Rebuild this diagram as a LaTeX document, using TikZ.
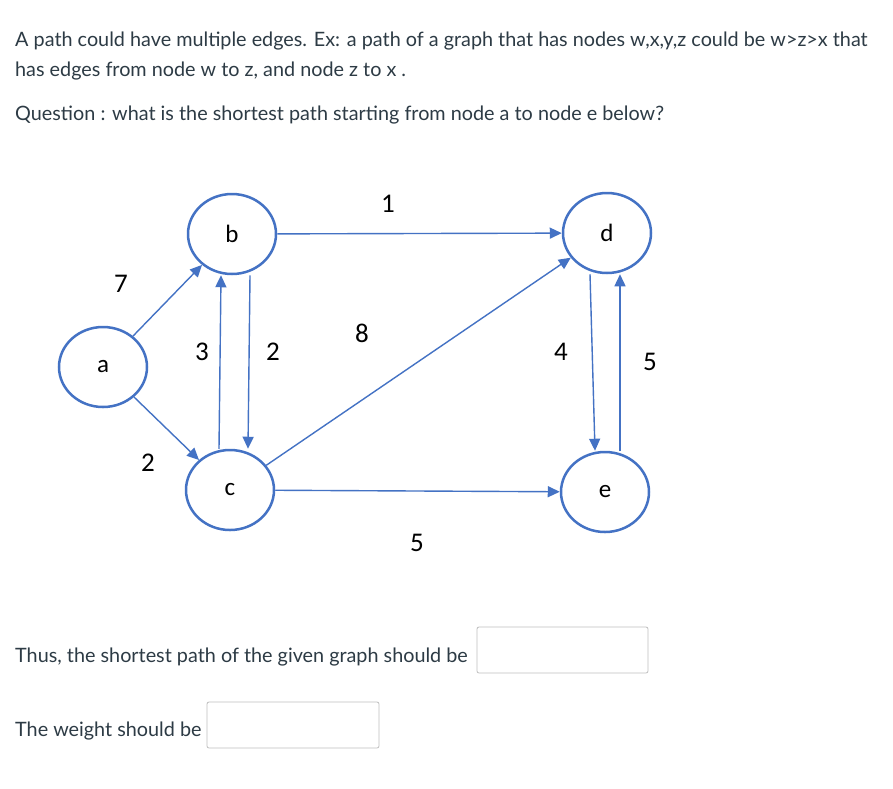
\documentclass[tikz,border=0pt]{standalone}
\usepackage{fontspec}
\setmainfont{Lato}
\newfontfamily\lblfont{Carlito}
\usetikzlibrary{arrows.meta,shapes.geometric}
\definecolor{nb}{HTML}{4472C4}
\definecolor{tx}{HTML}{2D3B45}
\begin{document}
\begin{tikzpicture}[x=1pt,y=-1pt,
  gnode/.style={ellipse,draw=nb,line width=2.5pt,fill=white,minimum width=88pt,minimum height=80pt,inner sep=0pt,font=\lblfont\fontsize{25}{28}\selectfont},
  edge/.style={draw=nb,line width=1.4pt,-{Triangle[length=12pt,width=11pt]}},
  wlab/.style={font=\lblfont\fontsize{27}{30}\selectfont,text=black},
  txt/.style={anchor=base west,inner sep=0pt,font=\fontsize{19.8}{23}\selectfont,text=tx},
  ansbox/.style={draw=gray!50,rounded corners=2pt,line width=0.8pt}]
\useasboundingbox (0,0) rectangle (893,788);
\fill[white] (0,0) rectangle (893,788);
\node[txt] (t1) at (15,46) {A path could have multiple edges. Ex: a path of a graph that has nodes w,x,y,z could be w>z>x that};
\node[txt] (t2) at (15,76) {has edges from node w to z, and node z to x .};
\node[txt] (t3) at (15,120) {Question : what is the shortest path starting from node a to node e below?};
\node[gnode] (a) at (103,367) {a};
\node[gnode] (b) at (232,234) {b};
\node[gnode] (c) at (230,490) {c};
\node[gnode] (d) at (607,233) {d};
\node[gnode] (e) at (605,492) {e};
\draw[edge] (a) -- (b);
\draw[edge] (a) -- (c);
\draw[edge] ([xshift=-11pt]c.north) -- ([xshift=-11pt]b.south);
\draw[edge] ([xshift=18pt]b.south) -- ([xshift=18pt]c.north);
\draw[edge] (b) -- (d);
\draw[edge] (c) -- (d);
\draw[edge] (c) -- (e);
\draw[edge] ([xshift=-17pt]d.south) -- ([xshift=-10pt]e.north);
\draw[edge] ([xshift=15pt]e.north) -- ([xshift=13pt]d.south);
\node[wlab] (w1) at (121,284) {7};
\node[wlab] (w2) at (148,463) {2};
\node[wlab] (w3) at (202,352) {3};
\node[wlab] (w4) at (273,352) {2};
\node[wlab] (w5) at (388,204) {1};
\node[wlab] (w6) at (362,333) {8};
\node[wlab] (w7) at (417,543) {5};
\node[wlab] (w8) at (561,352) {4};
\node[wlab] (w9) at (650,362) {5};
\node[txt] (t4) at (15,662) {Thus, the shortest path of the given graph should be};
\node[txt] (t5) at (15,736) {The weight should be};
\draw[ansbox] (477,627) rectangle (648,673);
\draw[ansbox] (207,702) rectangle (379,748);
\end{tikzpicture}
\end{document}
